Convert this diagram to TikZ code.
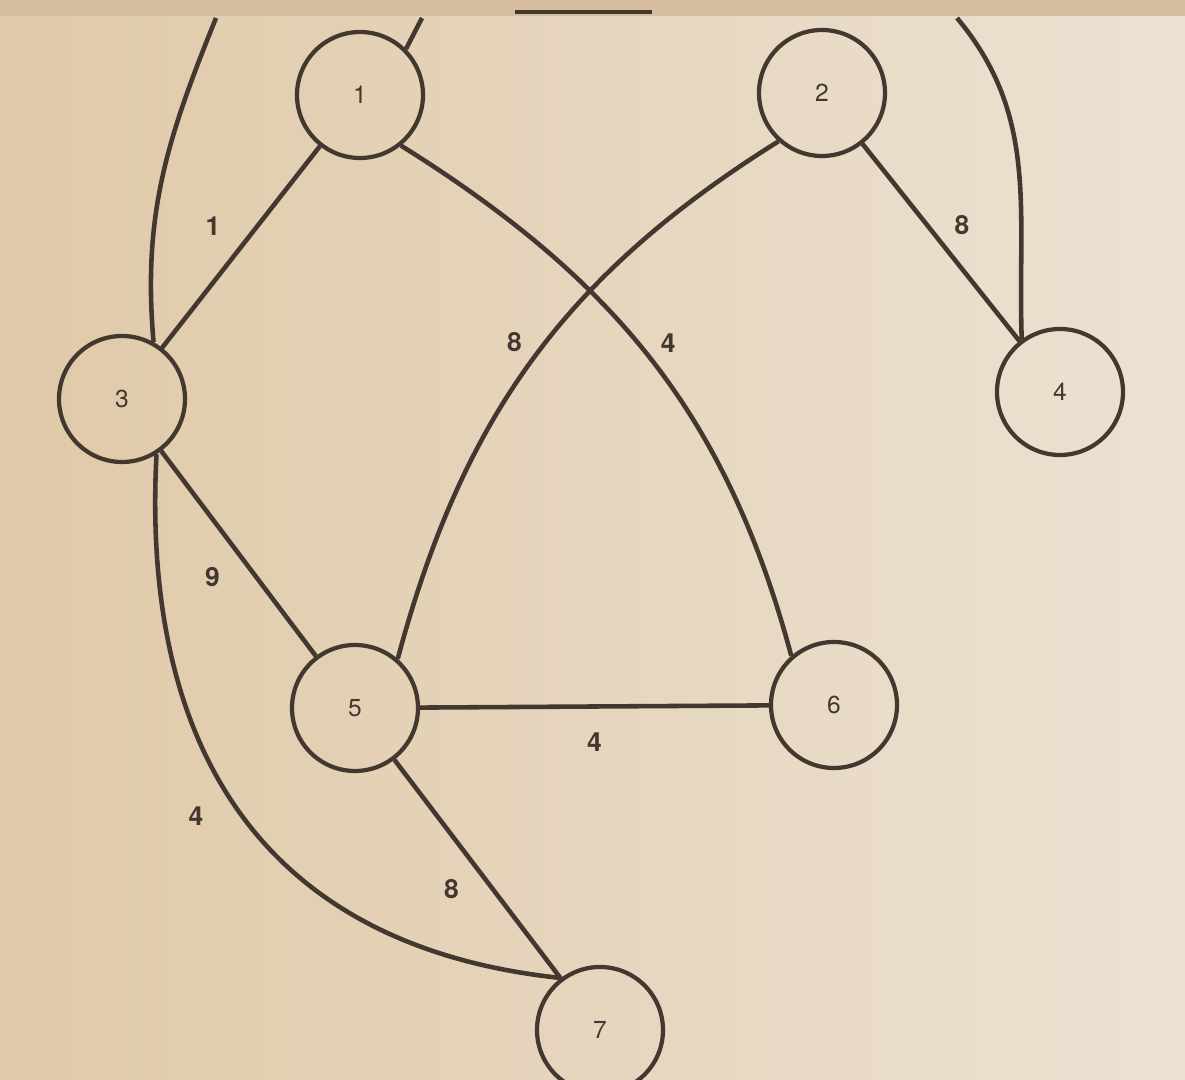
\documentclass[tikz,border=0pt]{standalone}
\usepackage{fontspec}
\setmainfont{TeX Gyre Heros}
\usepackage{tikz}

\definecolor{paper}{RGB}{224,201,168}
\definecolor{paperlight}{RGB}{236,226,211}
\definecolor{bezel}{RGB}{214,190,158}
\definecolor{ink}{RGB}{66,56,47}

\begin{document}
\begin{tikzpicture}[main/.style={draw=ink, circle, line width=1.2pt, minimum size=12.6mm, inner sep=0pt, text=ink, font=\fontsize{7}{8}\selectfont},
    wt/.style={text=ink, font=\fontsize{7.5}{9}\selectfont\bfseries},
    link/.style={draw=ink, line width=1.3pt}]
    \useasboundingbox (0,0) rectangle (11.85,-10.8);
    \clip (0,0) rectangle (11.85,-10.8);
    \shade[left color=paper, right color=paperlight] (0,0) rectangle (11.85,-10.8);
    \fill[bezel] (0,0) rectangle (11.85,-0.16);

    \node[main] (1) at (3.60,-0.95) {1};
    \node[main] (2) at (8.22,-0.93) {2};
    \node[main] (3) at (1.22,-3.99) {3};
    \node[main] (4) at (10.60,-3.92) {4};
    \node[main] (5) at (3.55,-7.08) {5};
    \node[main] (6) at (8.34,-7.05) {6};
    \node[main] (7) at (6.00,-10.30) {7};

    % ends running off the top
    \coordinate (t1) at (4.22,-0.18);
    \coordinate (t3) at (2.16,-0.18);
    \coordinate (t4) at (9.57,-0.18);
    \coordinate (bl) at (5.15,-0.12);
    \coordinate (br) at (6.52,-0.12);

    \draw[link] (1) -- (3) node[wt, midway, xshift=-2.8mm, yshift=2.1mm] {1};
    \draw[link] (2) -- (4) node[wt, midway, xshift=2.1mm, yshift=1.7mm] {8};
    \draw[link] (3) -- (5) node[wt, midway, xshift=-2.6mm, yshift=-2.4mm] {9};
    \draw[link] (5) -- (6) node[wt, midway, yshift=-3.6mm] {4};
    \draw[link] (5) -- (7) node[wt, midway, xshift=-2.6mm, yshift=-2.0mm] {8};

    \draw[link] (1.-51) to[out=-32, in=105] node[wt, pos=0.45, xshift=3.6mm, yshift=-0.7mm] {4} (6.131);
    \draw[link] (2.228) to[out=212, in=75] node[wt, pos=0.45, xshift=-3.7mm, yshift=-0.7mm] {8} (5.49);
    \draw[link] (3.-58) to[out=267, in=174, looseness=1.15] node[wt, pos=0.5, xshift=-4.6mm] {4} (7.127);

    \draw[link] (1.45) -- (t1);
    \draw[link] (3.61) to[out=95, in=248] (t3);
    \draw[link] (4.126) to[out=92, in=310] (t4);
    \draw[ink, line width=0.9pt] (bl) -- (br);
\end{tikzpicture}
\end{document}
